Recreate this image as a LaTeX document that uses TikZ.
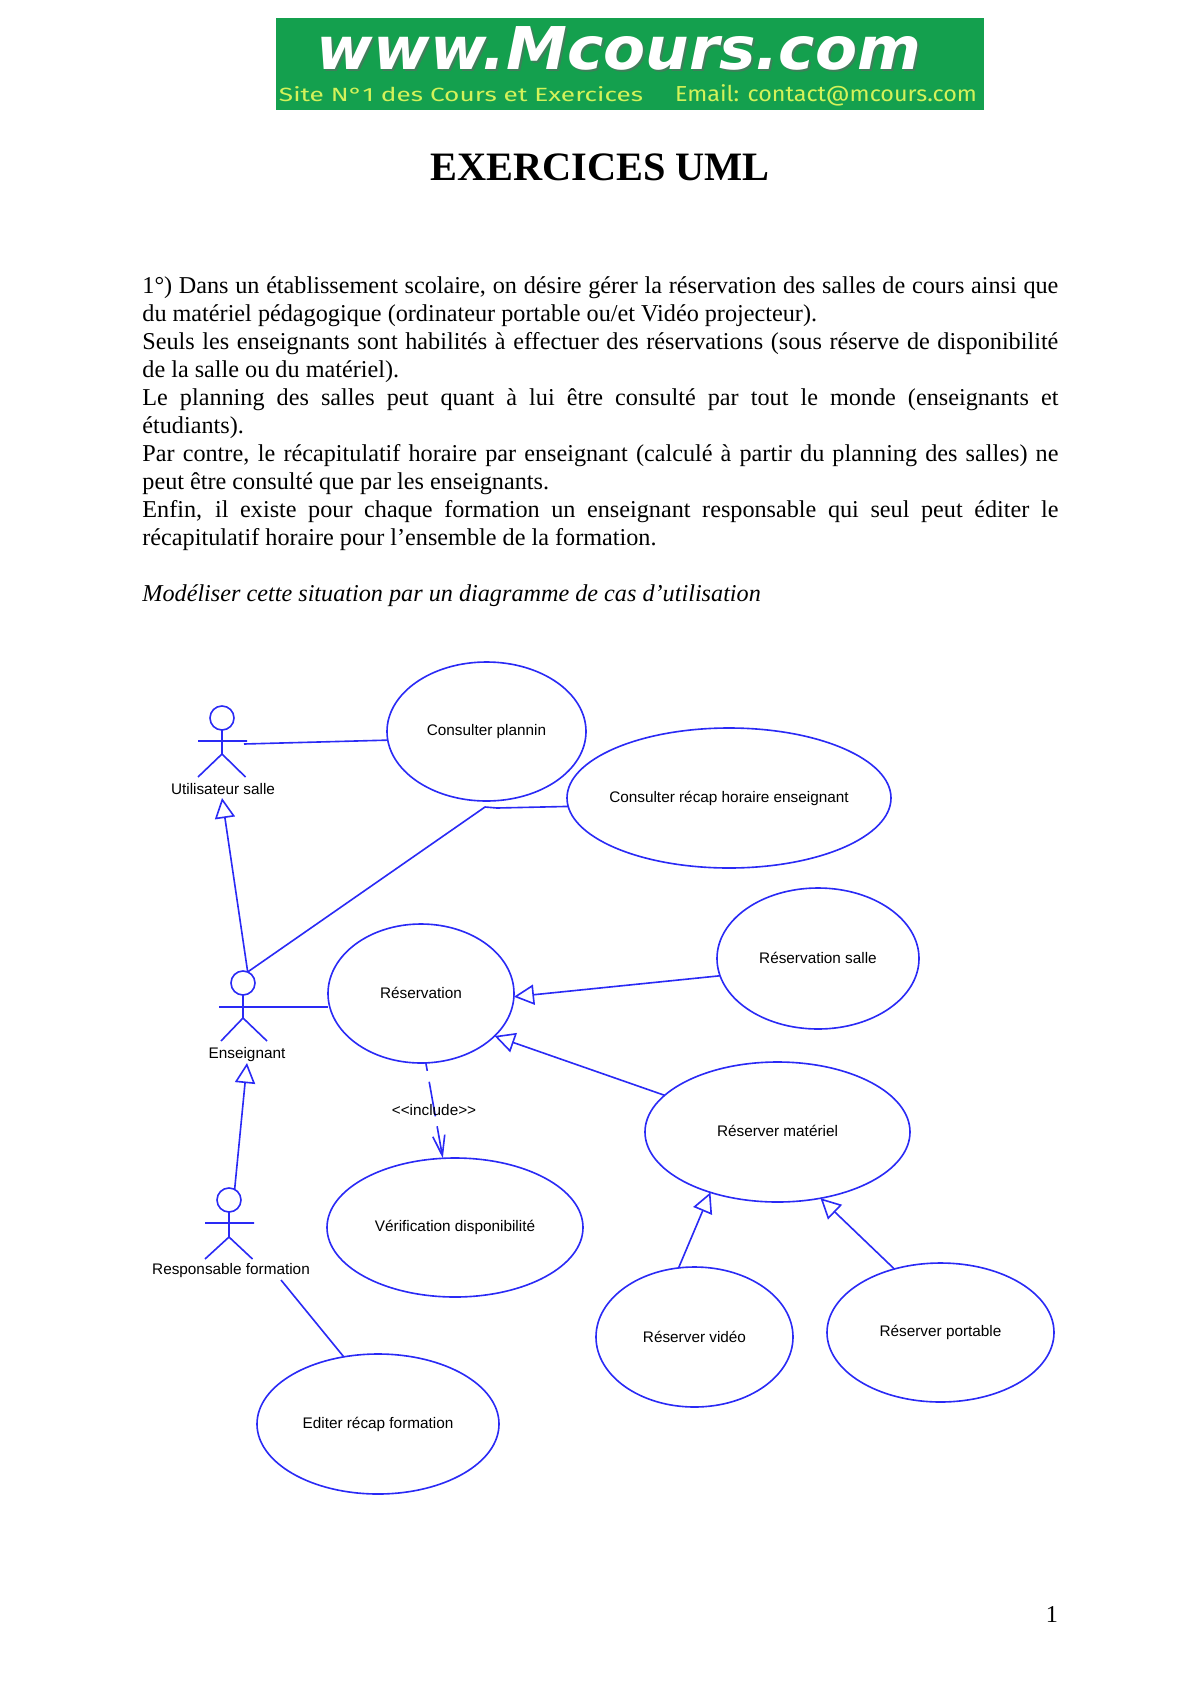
\documentclass[tikz,border=0pt]{standalone}
\usepackage{fontspec}
\setmainfont{Liberation Serif}
\newfontfamily\umlfont{Liberation Sans}
\newfontfamily\banfont{DejaVu Sans}
\newfontfamily\bansmall{Fira Sans}
\usetikzlibrary{shapes.geometric,arrows.meta}
\definecolor{umlblue}{HTML}{2A2AF5}
\definecolor{bangreen}{HTML}{14A04E}
\definecolor{banyellow}{HTML}{D4F25A}
\definecolor{banshadow}{HTML}{3F7F5A}
\tikzset{
  umlline/.style={draw=umlblue,line width=0.8pt,line join=round},
  usecase/.style n args={2}{ellipse,draw=umlblue,line width=0.8pt,inner sep=-30pt,outer sep=0pt,
    minimum width=#1*0.4958pt,minimum height=#2*0.4958pt,font=\umlfont\fontsize{7.6}{9}\selectfont,text=black},
  umltext/.style={inner sep=0pt,font=\umlfont\fontsize{7.6}{9}\selectfont,text=black},
  actorhead/.style={circle,draw=umlblue,line width=0.8pt,inner sep=0pt,outer sep=0pt,minimum size=24*0.4958pt},
  gen/.style={umlline,-{Triangle[open,length=10pt,width=10pt,line width=0.8pt]}},
  incl/.style={umlline,dash pattern=on 4pt off 5.5pt on 17.4pt off 5pt on 15pt off 1pt,
    -{Straight Barb[length=10pt,width=6pt,line width=0.8pt]}},
}
\begin{document}
\begin{tikzpicture}[x=0.4958pt,y=-0.4958pt]
\useasboundingbox (0,0) rectangle (1200,1698);
% banner
\node[fill=bangreen,minimum width=708*0.4958pt,minimum height=92*0.4958pt,inner sep=0pt,outer sep=0pt] (banner) at (630,64) {};
\node[inner sep=0pt,text=banshadow] (bansh) at (621,50) {\resizebox{299.5pt}{21.3pt}{\banfont\bfseries\itshape www.Mcours.com}};
\node[inner sep=0pt,text=white] (bantitle) at (619,48) {\resizebox{299.5pt}{21.3pt}{\banfont\bfseries\itshape www.Mcours.com}};
\node[inner sep=0pt,text=banyellow] (bansite) at (461,94) {\resizebox{180.5pt}{7.4pt}{\bansmall Site N°1 des Cours et Exercices}};
\node[inner sep=0pt,text=banyellow] (banmail) at (826,95) {\resizebox{149.7pt}{8.4pt}{\bansmall Email: contact@mcours.com}};
% title and body
\node[font=\fontsize{20}{24}\selectfont\bfseries,inner sep=0pt] (title) at (600,167) {EXERCICES UML};
\node[anchor=north west,inner sep=0pt,text width=916*0.4958pt,align=justify,font=\fontsize{12}{13.85}\selectfont] (body) at (142,276.5) {%
1°) Dans un établissement scolaire, on désire gérer la réservation des salles de cours ainsi que\linebreak
du matériel pédagogique (ordinateur portable ou/et Vidéo projecteur).\par
Seuls les enseignants sont habilités à effectuer des réservations (sous réserve de disponibilité\linebreak
de la salle ou du matériel).\par
Le planning des salles peut quant à lui être consulté par tout le monde (enseignants et\linebreak
étudiants).\par
Par contre, le récapitulatif horaire par enseignant (calculé à partir du planning des salles) ne\linebreak
peut être consulté que par les enseignants.\par
Enfin, il existe pour chaque formation un enseignant responsable qui seul peut éditer le\linebreak
récapitulatif horaire pour l’ensemble de la formation.\par
\vspace{13.85pt}
\textit{Modéliser cette situation par un diagramme de cas d’utilisation}\par};
\node[font=\fontsize{12}{14}\selectfont,inner sep=0pt] (pagenum) at (1052,1614) {1};
% use cases
\node[usecase={199}{139}] (plannin) at (486.5,731.5) {Consulter plannin};
\node[usecase={324}{140}] (recap) at (729,798) {Consulter récap horaire enseignant};
\node[usecase={186}{139}] (reserv) at (421,993.5) {\raisebox{1pt}{Réservation}};
\node[usecase={202}{141}] (salle) at (818,958.5) {\raisebox{1pt}{Réservation salle}};
\node[usecase={265}{140}] (materiel) at (777.5,1132) {\raisebox{1pt}{Réserver matériel}};
\node[usecase={256}{139}] (verif) at (455,1227.5) {\raisebox{1pt}{Vérification disponibilité}};
\node[usecase={242}{140}] (edit) at (378,1424) {Editer récap formation};
\node[usecase={197}{140}] (video) at (694.5,1337) {\raisebox{0.5pt}{Réserver vidéo}};
\node[usecase={227}{139}] (portable) at (940.5,1332.5) {Réserver portable};
% actor: Utilisateur salle
\node[actorhead] (uhead) at (222,718) {};
\coordinate (uarml) at (198,741); \coordinate (uarmr) at (247,741);
\coordinate (uhip) at (222,754);
\coordinate (ulegl) at (198,777); \coordinate (ulegr) at (245.5,777);
\draw[umlline] (uhead) -- (uhip) -- (ulegl) (uhip) -- (ulegr) (uarml) -- (uarmr);
\node[umltext] (ulabel) at (223,789) {Utilisateur salle};
% actor: Enseignant
\node[actorhead] (ehead) at (243,983) {};
\coordinate (earml) at (219,1007);
\coordinate (ehip) at (243,1018);
\coordinate (elegl) at (221,1041); \coordinate (elegr) at (267,1041);
\draw[umlline] (ehead) -- (ehip) -- (elegl) (ehip) -- (elegr);
\node[umltext] (elabel) at (247,1055) {Enseignant};
% actor: Responsable formation
\node[actorhead] (rhead) at (229,1200) {};
\coordinate (rarml) at (205,1223); \coordinate (rarmr) at (254,1223);
\coordinate (rhip) at (229,1237);
\coordinate (rlegl) at (205,1259); \coordinate (rlegr) at (252.5,1259);
\draw[umlline] (rhead) -- (rhip) -- (rlegl) (rhip) -- (rlegr) (rarml) -- (rarmr);
\node[umltext] (rlabel) at (231,1271) {Responsable formation};
% free ends of connectors
\coordinate (ustart) at (244,744);
\coordinate (utip) at (222,798);
\coordinate (etip) at (247,1063);
\coordinate (rfree) at (281,1280);
\coordinate (bendA) at (485,807);
\coordinate (bendB) at (497,808);
% connectors
\draw[umlline] (ustart) -- (plannin.185.5);
\draw[umlline] (ehead.67) -- (bendA) -- (bendB) -- (recap.183.5);
\draw[umlline] (earml) -- (reserv.west |- earml);
\draw[gen] (ehead.67) -- (utip);
\draw[gen] (rhead.62) -- (etip);
\draw[umlline] (rfree) -- (edit.117.6);
\draw[gen] (salle.190.5) -- (reserv.-2.8);
\draw[gen] (materiel.162) -- (reserv.-30.5);
\draw[gen] (video.103) -- (materiel.222.5);
\draw[gen] (portable.126.5) -- (materiel.303);
\draw[incl] (reserv.274) -- (verif.100.5);
\node[umltext] (incllabel) at (434,1110) {<{}<include>{}>};
\end{tikzpicture}
\end{document}
